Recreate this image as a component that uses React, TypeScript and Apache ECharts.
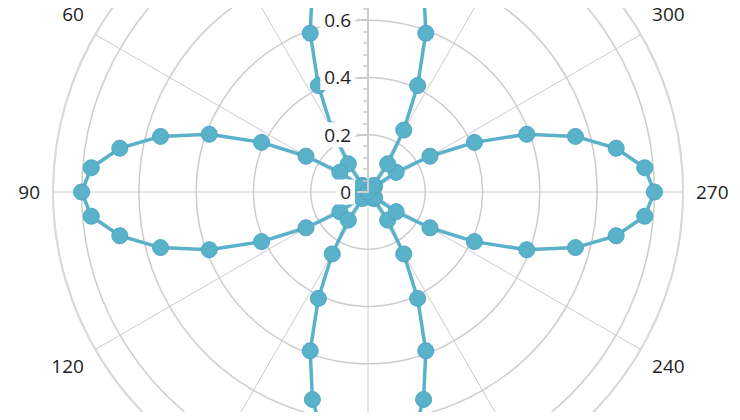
import { useEffect, useRef } from 'react';
import * as echarts from 'echarts';

// angle in degrees (counter-clockwise, 0 at the top) and radius of each point
const angles = [
  0, 5, 10, 15, 20, 25, 30, 35, 40, 45, 50, 55, 60, 65, 70, 75, 80, 85,
  90, 95, 100, 105, 110, 115, 120, 125, 130, 135, 140, 145, 150, 155, 160, 165, 170, 175,
  180, 185, 190, 195, 200, 205, 210, 215, 220, 225, 230, 235, 240, 245, 250, 255, 260, 265,
  270, 275, 280, 285, 290, 295, 300, 305, 310, 315, 320, 325, 330, 335, 340, 345, 350, 355, 360
];
const radii = [
  1.0, 0.97, 0.88, 0.75, 0.59, 0.41, 0.25, 0.12, 0.03, 0, 0.03, 0.12, 0.25, 0.41, 0.59, 0.75, 0.88, 0.97,
  1.0, 0.97, 0.88, 0.75, 0.59, 0.41, 0.25, 0.12, 0.03, 0, 0.03, 0.12, 0.25, 0.41, 0.59, 0.75, 0.88, 0.97,
  1.0, 0.97, 0.88, 0.75, 0.59, 0.41, 0.25, 0.12, 0.03, 0, 0.03, 0.12, 0.25, 0.41, 0.59, 0.75, 0.88, 0.97,
  1.0, 0.97, 0.88, 0.75, 0.59, 0.41, 0.25, 0.12, 0.03, 0, 0.03, 0.12, 0.25, 0.41, 0.59, 0.75, 0.88, 0.97,
  1.0
];

const radiusMax = 1.1;
const radiusStep = 0.2;
const angleStep = 30;
// labels that fall inside the visible window
const angleLabels = [60, 90, 120, 240, 270, 300];
const upperAngleLabels = [60, 300];
const radiusLabels = [0, 0.2, 0.4, 0.6];

const font = 'Open Sans';
const gridColor = '#cccccc';
const seriesColor = '#5ab1ca';

export default function App() {
  const ref = useRef<HTMLDivElement>(null);

  useEffect(() => {
    if (!ref.current) return;
    const chart = echarts.init(ref.current, undefined, { renderer: 'svg' });

    const polarBox = { center: [360, 184], radius: 315 };

    chart.setOption({
      animation: false,
      polar: [polarBox, polarBox],
      angleAxis: [
        {
          polarIndex: 0,
          type: 'value',
          min: 0,
          max: 360,
          interval: angleStep,
          startAngle: 90,
          clockwise: false,
          axisLine: { lineStyle: { color: '#d9d9d9', width: 2 } },
          axisTick: { show: false },
          axisLabel: {
            margin: 13,
            fontFamily: font,
            fontSize: 19,
            color: '#222',
            formatter: (v: number) => {
              if (!angleLabels.includes(v)) return '';
              return upperAngleLabels.includes(v) ? `{up|${v}}` : String(v);
            },
            rich: {
              up: { fontFamily: font, fontSize: 19, color: '#222', lineHeight: 28 }
            }
          },
          splitLine: { lineStyle: { color: gridColor, width: 1 } }
        },
        {
          polarIndex: 1,
          type: 'value',
          min: 0,
          max: 360,
          startAngle: 90,
          clockwise: false,
          show: false
        }
      ],
      radiusAxis: [
        {
          polarIndex: 0,
          min: 0,
          max: radiusMax,
          interval: radiusStep,
          axisLine: { show: false },
          axisTick: { show: false },
          axisLabel: { show: false },
          splitLine: { lineStyle: { color: gridColor, width: 1.5 } }
        },
        {
          polarIndex: 1,
          z: 10,
          min: 0,
          max: radiusMax,
          interval: radiusStep,
          axisLine: { lineStyle: { color: gridColor, width: 2 } },
          axisTick: { length: 11, lineStyle: { color: gridColor, width: 2 } },
          minorTick: { show: true, splitNumber: 5, length: 5, lineStyle: { color: gridColor, width: 1.5 } },
          axisLabel: {
            margin: 13,
            fontFamily: font,
            fontSize: 19,
            color: '#222',
            backgroundColor: '#fff',
            padding: [3, 4],
            formatter: (v: number) => (radiusLabels.some((l) => Math.abs(l - v) < 1e-6) ? String(v) : '')
          },
          splitLine: { show: false }
        }
      ],
      series: [
        {
          type: 'line',
          coordinateSystem: 'polar',
          polarIndex: 0,
          data: radii.map((r, i) => [r, angles[i]]),
          symbol: 'circle',
          symbolSize: 16,
          lineStyle: { color: seriesColor, width: 3.5 },
          itemStyle: { color: seriesColor, borderColor: '#4ea6bf', borderWidth: 1 }
        }
      ]
    });

    return () => {
      chart.dispose();
    };
  }, []);

  return <div ref={ref} style={{ width: 724, height: 404 }} />;
}
